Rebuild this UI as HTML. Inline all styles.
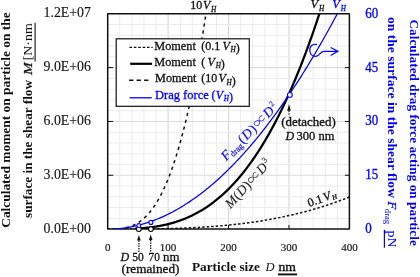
<!DOCTYPE html>
<html><head><meta charset="utf-8"><style>
html,body{margin:0;padding:0;background:#fff;}
svg{display:block;}
text{font-family:"Liberation Serif","DejaVu Serif",serif;}
.i{font-style:italic;}
.b{font-weight:bold;}
</style></head><body>
<svg width="420" height="277" viewBox="0 0 420 277">
<defs><clipPath id="pc"><rect x="107.7" y="13.8" width="241.7" height="215.29999999999998"/></clipPath></defs>
<g><line x1="119.78" y1="13.8" x2="119.78" y2="229.1" stroke="#ececec" stroke-width="1.0"/>
<line x1="131.87" y1="13.8" x2="131.87" y2="229.1" stroke="#ececec" stroke-width="1.0"/>
<line x1="143.95" y1="13.8" x2="143.95" y2="229.1" stroke="#ececec" stroke-width="1.0"/>
<line x1="156.04" y1="13.8" x2="156.04" y2="229.1" stroke="#ececec" stroke-width="1.0"/>
<line x1="168.12" y1="13.8" x2="168.12" y2="229.1" stroke="#d6d6d6" stroke-width="1.1"/>
<line x1="180.21" y1="13.8" x2="180.21" y2="229.1" stroke="#ececec" stroke-width="1.0"/>
<line x1="192.30" y1="13.8" x2="192.30" y2="229.1" stroke="#ececec" stroke-width="1.0"/>
<line x1="204.38" y1="13.8" x2="204.38" y2="229.1" stroke="#ececec" stroke-width="1.0"/>
<line x1="216.46" y1="13.8" x2="216.46" y2="229.1" stroke="#ececec" stroke-width="1.0"/>
<line x1="228.55" y1="13.8" x2="228.55" y2="229.1" stroke="#d6d6d6" stroke-width="1.1"/>
<line x1="240.63" y1="13.8" x2="240.63" y2="229.1" stroke="#ececec" stroke-width="1.0"/>
<line x1="252.72" y1="13.8" x2="252.72" y2="229.1" stroke="#ececec" stroke-width="1.0"/>
<line x1="264.81" y1="13.8" x2="264.81" y2="229.1" stroke="#ececec" stroke-width="1.0"/>
<line x1="276.89" y1="13.8" x2="276.89" y2="229.1" stroke="#ececec" stroke-width="1.0"/>
<line x1="288.98" y1="13.8" x2="288.98" y2="229.1" stroke="#d6d6d6" stroke-width="1.1"/>
<line x1="301.06" y1="13.8" x2="301.06" y2="229.1" stroke="#ececec" stroke-width="1.0"/>
<line x1="313.14" y1="13.8" x2="313.14" y2="229.1" stroke="#ececec" stroke-width="1.0"/>
<line x1="325.23" y1="13.8" x2="325.23" y2="229.1" stroke="#ececec" stroke-width="1.0"/>
<line x1="337.31" y1="13.8" x2="337.31" y2="229.1" stroke="#ececec" stroke-width="1.0"/>
<line x1="107.7" y1="218.34" x2="349.4" y2="218.34" stroke="#ececec" stroke-width="1.0"/>
<line x1="107.7" y1="207.57" x2="349.4" y2="207.57" stroke="#ececec" stroke-width="1.0"/>
<line x1="107.7" y1="196.81" x2="349.4" y2="196.81" stroke="#ececec" stroke-width="1.0"/>
<line x1="107.7" y1="186.04" x2="349.4" y2="186.04" stroke="#ececec" stroke-width="1.0"/>
<line x1="107.7" y1="175.27" x2="349.4" y2="175.27" stroke="#dcdcdc" stroke-width="1.1"/>
<line x1="107.7" y1="164.51" x2="349.4" y2="164.51" stroke="#ececec" stroke-width="1.0"/>
<line x1="107.7" y1="153.75" x2="349.4" y2="153.75" stroke="#ececec" stroke-width="1.0"/>
<line x1="107.7" y1="142.98" x2="349.4" y2="142.98" stroke="#ececec" stroke-width="1.0"/>
<line x1="107.7" y1="132.22" x2="349.4" y2="132.22" stroke="#ececec" stroke-width="1.0"/>
<line x1="107.7" y1="121.45" x2="349.4" y2="121.45" stroke="#dcdcdc" stroke-width="1.1"/>
<line x1="107.7" y1="110.69" x2="349.4" y2="110.69" stroke="#ececec" stroke-width="1.0"/>
<line x1="107.7" y1="99.92" x2="349.4" y2="99.92" stroke="#ececec" stroke-width="1.0"/>
<line x1="107.7" y1="89.16" x2="349.4" y2="89.16" stroke="#ececec" stroke-width="1.0"/>
<line x1="107.7" y1="78.39" x2="349.4" y2="78.39" stroke="#ececec" stroke-width="1.0"/>
<line x1="107.7" y1="67.63" x2="349.4" y2="67.63" stroke="#dcdcdc" stroke-width="1.1"/>
<line x1="107.7" y1="56.86" x2="349.4" y2="56.86" stroke="#ececec" stroke-width="1.0"/>
<line x1="107.7" y1="46.09" x2="349.4" y2="46.09" stroke="#ececec" stroke-width="1.0"/>
<line x1="107.7" y1="35.33" x2="349.4" y2="35.33" stroke="#ececec" stroke-width="1.0"/>
<line x1="107.7" y1="24.56" x2="349.4" y2="24.56" stroke="#ececec" stroke-width="1.0"/></g>
<g stroke="#111" stroke-width="1.0"><line x1="107.7" y1="175.28" x2="113.2" y2="175.28"/>
<line x1="344.9" y1="175.28" x2="349.4" y2="175.28"/>
<line x1="107.7" y1="121.45" x2="113.2" y2="121.45"/>
<line x1="344.9" y1="121.45" x2="349.4" y2="121.45"/>
<line x1="107.7" y1="67.62" x2="113.2" y2="67.62"/>
<line x1="344.9" y1="67.62" x2="349.4" y2="67.62"/>
<line x1="168.12" y1="229.1" x2="168.12" y2="225.1"/>
<line x1="228.55" y1="229.1" x2="228.55" y2="225.1"/>
<line x1="288.97" y1="229.1" x2="288.97" y2="225.1"/></g>
<rect x="107.7" y="13.8" width="241.70" height="215.30" fill="none" stroke="#111" stroke-width="1.5" stroke-linejoin="round"/>
<g clip-path="url(#pc)" fill="none">
<path d="M107.70,229.10 L108.91,229.10 L110.12,229.10 L111.33,229.10 L112.53,229.10 L113.74,229.10 L114.95,229.10 L116.16,229.10 L117.37,229.10 L118.58,229.10 L119.78,229.10 L120.99,229.09 L122.20,229.09 L123.41,229.09 L124.62,229.09 L125.83,229.09 L127.04,229.08 L128.24,229.08 L129.45,229.08 L130.66,229.07 L131.87,229.07 L133.08,229.06 L134.29,229.06 L135.50,229.05 L136.70,229.04 L137.91,229.04 L139.12,229.03 L140.33,229.02 L141.54,229.01 L142.75,229.00 L143.96,228.99 L145.16,228.98 L146.37,228.97 L147.58,228.96 L148.79,228.94 L150.00,228.93 L151.21,228.91 L152.41,228.90 L153.62,228.88 L154.83,228.86 L156.04,228.84 L157.25,228.82 L158.46,228.80 L159.67,228.78 L160.87,228.76 L162.08,228.73 L163.29,228.71 L164.50,228.68 L165.71,228.66 L166.92,228.63 L168.12,228.60 L169.33,228.57 L170.54,228.54 L171.75,228.50 L172.96,228.47 L174.17,228.43 L175.38,228.40 L176.58,228.36 L177.79,228.32 L179.00,228.28 L180.21,228.23 L181.42,228.19 L182.63,228.15 L183.84,228.10 L185.04,228.05 L186.25,228.00 L187.46,227.95 L188.67,227.89 L189.88,227.84 L191.09,227.78 L192.30,227.73 L193.50,227.67 L194.71,227.60 L195.92,227.54 L197.13,227.48 L198.34,227.41 L199.55,227.34 L200.75,227.27 L201.96,227.20 L203.17,227.12 L204.38,227.05 L205.59,226.97 L206.80,226.89 L208.01,226.81 L209.21,226.73 L210.42,226.64 L211.63,226.55 L212.84,226.46 L214.05,226.37 L215.26,226.28 L216.47,226.18 L217.67,226.08 L218.88,225.98 L220.09,225.88 L221.30,225.77 L222.51,225.66 L223.72,225.55 L224.92,225.44 L226.13,225.33 L227.34,225.21 L228.55,225.09 L229.76,224.97 L230.97,224.85 L232.18,224.72 L233.38,224.59 L234.59,224.46 L235.80,224.33 L237.01,224.19 L238.22,224.05 L239.43,223.91 L240.63,223.77 L241.84,223.62 L243.05,223.47 L244.26,223.32 L245.47,223.16 L246.68,223.01 L247.89,222.85 L249.09,222.68 L250.30,222.52 L251.51,222.35 L252.72,222.18 L253.93,222.00 L255.14,221.82 L256.35,221.64 L257.55,221.46 L258.76,221.27 L259.97,221.08 L261.18,220.89 L262.39,220.70 L263.60,220.50 L264.81,220.30 L266.01,220.09 L267.22,219.88 L268.43,219.67 L269.64,219.46 L270.85,219.24 L272.06,219.02 L273.26,218.80 L274.47,218.57 L275.68,218.34 L276.89,218.10 L278.10,217.87 L279.31,217.63 L280.52,217.38 L281.72,217.14 L282.93,216.88 L284.14,216.63 L285.35,216.37 L286.56,216.11 L287.77,215.85 L288.98,215.58 L290.18,215.30 L291.39,215.03 L292.60,214.75 L293.81,214.47 L295.02,214.18 L296.23,213.89 L297.43,213.59 L298.64,213.30 L299.85,212.99 L301.06,212.69 L302.27,212.38 L303.48,212.06 L304.69,211.75 L305.89,211.43 L307.10,211.10 L308.31,210.77 L309.52,210.44 L310.73,210.10 L311.94,209.76 L313.14,209.41 L314.35,209.06 L315.56,208.71 L316.77,208.35 L317.98,207.99 L319.19,207.63 L320.40,207.26 L321.60,206.88 L322.81,206.50 L324.02,206.12 L325.23,205.73 L326.44,205.34 L327.65,204.94 L328.86,204.54 L330.06,204.14 L331.27,203.73 L332.48,203.32 L333.69,202.90 L334.90,202.48 L336.11,202.05 L337.31,201.62 L338.52,201.18 L339.73,200.74 L340.94,200.29 L342.15,199.84 L343.36,199.39 L344.57,198.93 L345.77,198.47 L346.98,198.00 L348.19,197.52 L349.40,197.04" stroke="#111" stroke-width="1.5" stroke-dasharray="2.5 2"/>
<path d="M125.83,227.75 L126.23,227.66 L126.63,227.56 L127.03,227.46 L127.43,227.36 L127.83,227.25 L128.23,227.14 L128.63,227.02 L129.03,226.90 L129.43,226.77 L129.83,226.64 L130.23,226.50 L130.63,226.36 L131.04,226.22 L131.44,226.06 L131.84,225.91 L132.24,225.75 L132.64,225.58 L133.04,225.41 L133.44,225.23 L133.84,225.05 L134.24,224.86 L134.64,224.66 L135.04,224.46 L135.44,224.25 L135.84,224.04 L136.24,223.82 L136.64,223.60 L137.04,223.36 L137.44,223.13 L137.85,222.88 L138.25,222.63 L138.65,222.37 L139.05,222.11 L139.45,221.84 L139.85,221.56 L140.25,221.27 L140.65,220.98 L141.05,220.68 L141.45,220.37 L141.85,220.06 L142.25,219.74 L142.65,219.41 L143.05,219.07 L143.45,218.72 L143.85,218.37 L144.26,218.01 L144.66,217.64 L145.06,217.26 L145.46,216.88 L145.86,216.49 L146.26,216.09 L146.66,215.68 L147.06,215.26 L147.46,214.83 L147.86,214.39 L148.26,213.95 L148.66,213.50 L149.06,213.03 L149.46,212.56 L149.86,212.08 L150.26,211.59 L150.66,211.09 L151.07,210.59 L151.47,210.07 L151.87,209.54 L152.27,209.00 L152.67,208.46 L153.07,207.90 L153.47,207.33 L153.87,206.76 L154.27,206.17 L154.67,205.57 L155.07,204.97 L155.47,204.35 L155.87,203.72 L156.27,203.08 L156.67,202.43 L157.07,201.77 L157.48,201.10 L157.88,200.42 L158.28,199.73 L158.68,199.03 L159.08,198.31 L159.48,197.59 L159.88,196.85 L160.28,196.10 L160.68,195.34 L161.08,194.57 L161.48,193.78 L161.88,192.99 L162.28,192.18 L162.68,191.36 L163.08,190.53 L163.48,189.69 L163.88,188.83 L164.29,187.97 L164.69,187.09 L165.09,186.20 L165.49,185.29 L165.89,184.37 L166.29,183.44 L166.69,182.50 L167.09,181.54 L167.49,180.58 L167.89,179.59 L168.29,178.60 L168.69,177.59 L169.09,176.57 L169.49,175.53 L169.89,174.48 L170.29,173.42 L170.69,172.35 L171.10,171.26 L171.50,170.15 L171.90,169.04 L172.30,167.90 L172.70,166.76 L173.10,165.60 L173.50,164.43 L173.90,163.24 L174.30,162.03 L174.70,160.82 L175.10,159.58 L175.50,158.34 L175.90,157.08 L176.30,155.80 L176.70,154.51 L177.10,153.20 L177.51,151.88 L177.91,150.54 L178.31,149.19 L178.71,147.82 L179.11,146.44 L179.51,145.04 L179.91,143.62 L180.31,142.19 L180.71,140.75 L181.11,139.28 L181.51,137.81 L181.91,136.31 L182.31,134.80 L182.71,133.27 L183.11,131.73 L183.51,130.17 L183.91,128.59 L184.32,127.00 L184.72,125.39 L185.12,123.76 L185.52,122.12 L185.92,120.46 L186.32,118.78 L186.72,117.09 L187.12,115.37 L187.52,113.65 L187.92,111.90 L188.32,110.13 L188.72,108.35 L189.12,106.55 L189.52,104.73 L189.92,102.90 L190.32,101.04 L190.73,99.17 L191.13,97.28 L191.53,95.37 L191.93,93.45 L192.33,91.50 L192.73,89.54 L193.13,87.56 L193.53,85.56 L193.93,83.54 L194.33,81.50 L194.73,79.44 L195.13,77.37 L195.53,75.27 L195.93,73.16 L196.33,71.02 L196.73,68.87 L197.13,66.70 L197.54,64.51 L197.94,62.29 L198.34,60.06 L198.74,57.81 L199.14,55.54 L199.54,53.25 L199.94,50.94 L200.34,48.61 L200.74,46.25 L201.14,43.88 L201.54,41.49 L201.94,39.08 L202.34,36.64 L202.74,34.19 L203.14,31.71 L203.54,29.22 L203.94,26.70 L204.35,24.16 L204.75,21.60 L205.15,19.02 L205.55,16.42 L205.95,13.80" stroke="#111" stroke-width="1.5" stroke-dasharray="3.2 3.8"/>
<path d="M134.89,228.64 L135.81,228.60 L136.74,228.54 L137.66,228.49 L138.58,228.43 L139.50,228.37 L140.43,228.30 L141.35,228.24 L142.27,228.16 L143.19,228.08 L144.12,228.00 L145.04,227.92 L145.96,227.83 L146.88,227.73 L147.80,227.64 L148.73,227.53 L149.65,227.42 L150.57,227.31 L151.49,227.19 L152.42,227.07 L153.34,226.94 L154.26,226.81 L155.18,226.67 L156.11,226.53 L157.03,226.37 L157.95,226.22 L158.87,226.06 L159.80,225.89 L160.72,225.72 L161.64,225.54 L162.56,225.35 L163.49,225.16 L164.41,224.96 L165.33,224.75 L166.25,224.54 L167.17,224.32 L168.10,224.10 L169.02,223.87 L169.94,223.63 L170.86,223.38 L171.79,223.12 L172.71,222.86 L173.63,222.59 L174.55,222.32 L175.48,222.03 L176.40,221.74 L177.32,221.44 L178.24,221.13 L179.17,220.81 L180.09,220.49 L181.01,220.16 L181.93,219.81 L182.86,219.46 L183.78,219.10 L184.70,218.74 L185.62,218.36 L186.54,217.97 L187.47,217.58 L188.39,217.17 L189.31,216.76 L190.23,216.34 L191.16,215.90 L192.08,215.46 L193.00,215.01 L193.92,214.55 L194.85,214.07 L195.77,213.59 L196.69,213.10 L197.61,212.60 L198.54,212.08 L199.46,211.56 L200.38,211.03 L201.30,210.48 L202.23,209.93 L203.15,209.36 L204.07,208.78 L204.99,208.19 L205.92,207.59 L206.84,206.98 L207.76,206.36 L208.68,205.72 L209.60,205.08 L210.53,204.42 L211.45,203.75 L212.37,203.06 L213.29,202.37 L214.22,201.66 L215.14,200.94 L216.06,200.21 L216.98,199.47 L217.91,198.71 L218.83,197.94 L219.75,197.16 L220.67,196.37 L221.60,195.56 L222.52,194.74 L223.44,193.90 L224.36,193.05 L225.29,192.19 L226.21,191.32 L227.13,190.43 L228.05,189.52 L228.97,188.61 L229.90,187.68 L230.82,186.73 L231.74,185.77 L232.66,184.80 L233.59,183.81 L234.51,182.81 L235.43,181.79 L236.35,180.76 L237.28,179.71 L238.20,178.65 L239.12,177.57 L240.04,176.48 L240.97,175.37 L241.89,174.24 L242.81,173.11 L243.73,171.95 L244.66,170.78 L245.58,169.59 L246.50,168.39 L247.42,167.17 L248.34,165.94 L249.27,164.69 L250.19,163.42 L251.11,162.14 L252.03,160.84 L252.96,159.52 L253.88,158.19 L254.80,156.84 L255.72,155.47 L256.65,154.08 L257.57,152.68 L258.49,151.26 L259.41,149.82 L260.34,148.37 L261.26,146.90 L262.18,145.41 L263.10,143.90 L264.03,142.37 L264.95,140.83 L265.87,139.26 L266.79,137.68 L267.72,136.08 L268.64,134.47 L269.56,132.83 L270.48,131.17 L271.40,129.50 L272.33,127.81 L273.25,126.10 L274.17,124.36 L275.09,122.61 L276.02,120.84 L276.94,119.05 L277.86,117.24 L278.78,115.42 L279.71,113.57 L280.63,111.70 L281.55,109.81 L282.47,107.90 L283.40,105.97 L284.32,104.02 L285.24,102.05 L286.16,100.06 L287.09,98.05 L288.01,96.02 L288.93,93.97 L289.85,91.89 L290.77,89.80 L291.70,87.68 L292.62,85.54 L293.54,83.38 L294.46,81.20 L295.39,79.00 L296.31,76.78 L297.23,74.53 L298.15,72.27 L299.08,69.98 L300.00,67.66 L300.92,65.33 L301.84,62.97 L302.77,60.59 L303.69,58.19 L304.61,55.77 L305.53,53.32 L306.46,50.85 L307.38,48.36 L308.30,45.84 L309.22,43.30 L310.14,40.74 L311.07,38.15 L311.99,35.54 L312.91,32.91 L313.83,30.25 L314.76,27.57 L315.68,24.86 L316.60,22.13 L317.52,19.38 L318.45,16.60 L319.37,13.80" stroke="#000" stroke-width="2.25"/>
<path d="M113.14,228.98 L114.26,228.92 L115.38,228.86 L116.50,228.78 L117.62,228.70 L118.74,228.60 L119.86,228.50 L120.98,228.38 L122.11,228.25 L123.23,228.12 L124.35,227.97 L125.47,227.81 L126.59,227.64 L127.71,227.46 L128.83,227.28 L129.95,227.08 L131.07,226.87 L132.19,226.65 L133.31,226.42 L134.44,226.18 L135.56,225.93 L136.68,225.67 L137.80,225.40 L138.92,225.12 L140.04,224.83 L141.16,224.53 L142.28,224.22 L143.40,223.89 L144.52,223.56 L145.64,223.22 L146.76,222.87 L147.89,222.51 L149.01,222.13 L150.13,221.75 L151.25,221.36 L152.37,220.95 L153.49,220.54 L154.61,220.11 L155.73,219.68 L156.85,219.23 L157.97,218.78 L159.09,218.31 L160.22,217.84 L161.34,217.35 L162.46,216.86 L163.58,216.35 L164.70,215.83 L165.82,215.31 L166.94,214.77 L168.06,214.22 L169.18,213.66 L170.30,213.10 L171.42,212.52 L172.55,211.93 L173.67,211.33 L174.79,210.72 L175.91,210.10 L177.03,209.47 L178.15,208.83 L179.27,208.18 L180.39,207.52 L181.51,206.85 L182.63,206.17 L183.75,205.48 L184.87,204.78 L186.00,204.07 L187.12,203.34 L188.24,202.61 L189.36,201.87 L190.48,201.12 L191.60,200.35 L192.72,199.58 L193.84,198.80 L194.96,198.00 L196.08,197.20 L197.20,196.39 L198.33,195.56 L199.45,194.73 L200.57,193.88 L201.69,193.03 L202.81,192.16 L203.93,191.29 L205.05,190.40 L206.17,189.50 L207.29,188.60 L208.41,187.68 L209.53,186.75 L210.66,185.81 L211.78,184.87 L212.90,183.91 L214.02,182.94 L215.14,181.96 L216.26,180.97 L217.38,179.98 L218.50,178.97 L219.62,177.95 L220.74,176.92 L221.86,175.88 L222.98,174.83 L224.11,173.77 L225.23,172.70 L226.35,171.61 L227.47,170.52 L228.59,169.42 L229.71,168.31 L230.83,167.19 L231.95,166.06 L233.07,164.91 L234.19,163.76 L235.31,162.60 L236.44,161.42 L237.56,160.24 L238.68,159.05 L239.80,157.84 L240.92,156.63 L242.04,155.40 L243.16,154.17 L244.28,152.92 L245.40,151.67 L246.52,150.40 L247.64,149.13 L248.77,147.84 L249.89,146.54 L251.01,145.24 L252.13,143.92 L253.25,142.59 L254.37,141.25 L255.49,139.91 L256.61,138.55 L257.73,137.18 L258.85,135.80 L259.97,134.41 L261.09,133.01 L262.22,131.60 L263.34,130.18 L264.46,128.75 L265.58,127.31 L266.70,125.86 L267.82,124.40 L268.94,122.93 L270.06,121.45 L271.18,119.96 L272.30,118.46 L273.42,116.95 L274.55,115.42 L275.67,113.89 L276.79,112.35 L277.91,110.79 L279.03,109.23 L280.15,107.66 L281.27,106.07 L282.39,104.48 L283.51,102.88 L284.63,101.26 L285.75,99.64 L286.88,98.00 L288.00,96.36 L289.12,94.70 L290.24,93.03 L291.36,91.36 L292.48,89.67 L293.60,87.97 L294.72,86.27 L295.84,84.55 L296.96,82.82 L298.08,81.09 L299.20,79.34 L300.33,77.58 L301.45,75.81 L302.57,74.03 L303.69,72.24 L304.81,70.44 L305.93,68.63 L307.05,66.81 L308.17,64.98 L309.29,63.14 L310.41,61.29 L311.53,59.43 L312.66,57.56 L313.78,55.68 L314.90,53.79 L316.02,51.89 L317.14,49.97 L318.26,48.05 L319.38,46.12 L320.50,44.18 L321.62,42.22 L322.74,40.26 L323.86,38.29 L324.99,36.30 L326.11,34.31 L327.23,32.30 L328.35,30.29 L329.47,28.26 L330.59,26.23 L331.71,24.18 L332.83,22.13 L333.95,20.06 L335.07,17.98 L336.19,15.90 L337.31,13.80" stroke="#0000ff" stroke-width="1.25"/>
</g>
<circle cx="138.81" cy="229.10" r="2.4" fill="#fff" stroke="#000" stroke-width="1.1"/>
<circle cx="150.90" cy="229.10" r="2.4" fill="#fff" stroke="#000" stroke-width="1.1"/>
<circle cx="138.81" cy="225.57" r="1.9" fill="#fff" stroke="#0000ff" stroke-width="1.1"/>
<circle cx="150.90" cy="222.39" r="2.0" fill="#fff" stroke="#0000ff" stroke-width="1.1"/>
<circle cx="289.88" cy="94.91" r="2.4" fill="#fff" stroke="#0000ff" stroke-width="1.1"/>
<path d="M138.9,235.1 L140.70000000000002,240.6 L137.1,240.6 Z" fill="#111"/><line x1="138.9" y1="240.6" x2="138.9" y2="252" stroke="#111" stroke-width="1.2" stroke-dasharray="1.3 1.2"/><path d="M150.7,234.6 L152.5,240.1 L148.89999999999998,240.1 Z" fill="#111"/><line x1="150.7" y1="240.1" x2="150.7" y2="252" stroke="#111" stroke-width="1.2" stroke-dasharray="1.3 1.2"/><path d="M289.0,104.2 L290.8,110.7 L287.2,110.7 Z" fill="#111"/><line x1="289.0" y1="110.7" x2="289.0" y2="115.6" stroke="#111" stroke-width="1.2" stroke-dasharray="1.3 1.2"/>
<!-- rotation arrow -->
<path d="M316.9,44.6 C312,43.3 309.4,47 309.8,50.6 C310.2,54.6 312.8,56.7 315.8,56.4 C318.9,56.1 320.2,53.5 321.5,52.2 C322.4,51.5 323.5,51.3 325,51.3 L337.9,51.3 M330.7,47.5 L337.9,51.3 L330.7,55.4" fill="none" stroke="#0000ff" stroke-width="1.2"/>
<!-- legend -->
<rect x="116.2" y="38.8" width="133.1" height="67.5" fill="#fff" stroke="#111" stroke-width="1.2"/>
<g fill="none">
<line x1="129.4" y1="47.3" x2="152.7" y2="47.3" stroke="#111" stroke-width="1.3" stroke-dasharray="2.6 1.8"/>
<line x1="130.2" y1="63.8" x2="152.1" y2="63.8" stroke="#000" stroke-width="2.2"/>
<line x1="129.1" y1="80.3" x2="149.5" y2="80.3" stroke="#111" stroke-width="1.5" stroke-dasharray="4.3 3.2"/>
<line x1="129.6" y1="97.8" x2="151.8" y2="97.8" stroke="#0000ff" stroke-width="1.3"/>
</g>
<g font-size="12" fill="#111" stroke="#111" stroke-width="0.3">
<text x="154.3" y="49.8" textLength="41.5" lengthAdjust="spacingAndGlyphs">Moment</text><text x="201.3" y="49.8">(0.1</text><text x="222.5" y="49.8"><tspan class="i">V</tspan><tspan class="i" font-size="7.2" dy="2.4" dx="0.7">H</tspan><tspan dy="-2.4"></tspan><tspan>)</tspan></text>
<text x="154.3" y="65.6" textLength="41.5" lengthAdjust="spacingAndGlyphs">Moment</text><text x="201.3" y="65.6">(</text><text x="207.6" y="65.6"><tspan class="i">V</tspan><tspan class="i" font-size="7.2" dy="2.4" dx="0.7">H</tspan><tspan dy="-2.4"></tspan><tspan>)</tspan></text>
<text x="155" y="82.2" textLength="41.5" lengthAdjust="spacingAndGlyphs">Moment</text><text x="201.3" y="82.2">(10</text><text x="218.5" y="82.2"><tspan class="i">V</tspan><tspan class="i" font-size="7.2" dy="2.4" dx="0.7">H</tspan><tspan dy="-2.4"></tspan><tspan>)</tspan></text>
<g fill="#0000ff" stroke="#0000ff"><text x="155" y="98.6" textLength="53.8" lengthAdjust="spacingAndGlyphs">Drag force</text><text x="211.5" y="98.6">(</text><text x="215.8" y="98.6"><tspan class="i">V</tspan><tspan class="i" font-size="7.2" dy="2.4" dx="0.7">H</tspan><tspan dy="-2.4"></tspan><tspan>)</tspan></text></g>
</g>
<g font-size="13.8" fill="#111" stroke="#111" stroke-width="0.12"><text x="43.5" y="232.70" textLength="47.5" lengthAdjust="spacingAndGlyphs">0.0E+00</text><text x="43.5" y="178.88" textLength="47.5" lengthAdjust="spacingAndGlyphs">3.0E+06</text><text x="43.5" y="125.05" textLength="47.5" lengthAdjust="spacingAndGlyphs">6.0E+06</text><text x="43.5" y="71.22" textLength="47.5" lengthAdjust="spacingAndGlyphs">9.0E+06</text><text x="43.5" y="17.40" textLength="47.5" lengthAdjust="spacingAndGlyphs">1.2E+07</text></g>
<g font-size="14.8" fill="#0000ff" stroke="#0000ff" stroke-width="0.35"><text x="365.2" y="233.00" textLength="6.5" lengthAdjust="spacingAndGlyphs">0</text><text x="365.2" y="179.18" textLength="12.9" lengthAdjust="spacingAndGlyphs">15</text><text x="365.2" y="125.35" textLength="12.9" lengthAdjust="spacingAndGlyphs">30</text><text x="365.2" y="71.53" textLength="12.9" lengthAdjust="spacingAndGlyphs">45</text><text x="365.2" y="17.70" textLength="12.9" lengthAdjust="spacingAndGlyphs">60</text></g>
<g font-size="11" fill="#111" stroke="#111" stroke-width="0.15"><text x="107.70" y="251.2" text-anchor="middle">0</text><text x="168.12" y="251.2" text-anchor="middle">100</text><text x="228.55" y="251.2" text-anchor="middle">200</text><text x="288.97" y="251.2" text-anchor="middle">300</text><text x="349.40" y="251.2" text-anchor="middle">400</text></g>
<!-- x label -->
<g font-size="12.5" fill="#111">
<text x="192" y="270.6" textLength="68" lengthAdjust="spacingAndGlyphs" class="b">Particle size</text>
<text x="265.5" y="270.6" class="i">D</text>
<text x="278.5" y="270.6" textLength="17.5" lengthAdjust="spacingAndGlyphs" stroke="#111" stroke-width="0.35">nm</text>
<line x1="277.9" y1="274.4" x2="297.1" y2="274.4" stroke="#111" stroke-width="1.9"/>
</g>
<!-- left y label -->
<g font-size="12.5" fill="#111">
<text transform="translate(10.1,227.8) rotate(-90)" x="0" y="0" class="b" textLength="215.5" lengthAdjust="spacingAndGlyphs">Calculated moment on particle on the</text>
<text transform="translate(31.5,218) rotate(-90)" x="0" y="0" class="b" textLength="138" lengthAdjust="spacingAndGlyphs">surface in the shear flow</text>
<text transform="translate(31.6,74.9) rotate(-90)" x="0" y="0" class="i" font-size="13" stroke="#111" stroke-width="0.3" textLength="12.6" lengthAdjust="spacingAndGlyphs">M</text>
<text transform="translate(32.3,60.3) rotate(-90)" x="0" y="0" textLength="37" lengthAdjust="spacingAndGlyphs">[N·nm</text>
<line x1="35.1" y1="61.5" x2="35.1" y2="22.7" stroke="#111" stroke-width="1.1"/>
</g>
<!-- right y label -->
<g font-size="12.5" fill="#0000ff">
<text transform="translate(410.3,19.4) rotate(90)" x="0" y="0" class="b" textLength="226.5" lengthAdjust="spacingAndGlyphs">Calculated drag force acting on particle</text>
<text transform="translate(387.9,17) rotate(90)" x="0" y="0" class="b" textLength="181" lengthAdjust="spacingAndGlyphs">on the surface in the shear flow</text>
<text transform="translate(387.9,201.2) rotate(90)" x="0" y="0"><tspan class="i" font-size="13.5" stroke="#0000ff" stroke-width="0.25">F</tspan><tspan font-size="8.6" dy="2.4" dx="-0.6">drag</tspan></text>
<text transform="translate(387.9,230.5) rotate(90)" x="0" y="0" textLength="17" lengthAdjust="spacingAndGlyphs">pN</text>
<line x1="384.4" y1="229.8" x2="384.4" y2="247.8" stroke="#0000ff" stroke-width="1.2"/>
</g>
<!-- annotations -->
<g font-size="12" fill="#111" stroke="#111" stroke-width="0.3">
<text x="190.2" y="9.3">10</text><text x="203" y="9.3"><tspan class="i">V</tspan><tspan class="i" font-size="7.2" dy="2.4" dx="0.7">H</tspan><tspan dy="-2.4"></tspan></text>
<text x="310.6" y="8.4" font-size="12.5"><tspan class="i">V</tspan><tspan class="i" font-size="7.2" dy="2.4" dx="0.7">H</tspan><tspan dy="-2.4"></tspan></text>
<text x="332.3" y="8.4" font-size="12.5" fill="#0000ff" stroke="#0000ff"><tspan class="i">V</tspan><tspan class="i" font-size="7.2" dy="2.4" dx="0.7">H</tspan><tspan dy="-2.4"></tspan></text>
<text x="281.3" y="126.4" textLength="54.5" lengthAdjust="spacingAndGlyphs">(detached)</text>
<text x="285.6" y="140" class="i">D</text><text x="296.5" y="140" textLength="18.8" lengthAdjust="spacingAndGlyphs">300</text><text x="318.5" y="140" textLength="16" lengthAdjust="spacingAndGlyphs">nm</text>
<text x="120.6" y="261" class="i">D</text><text x="132.2" y="261" textLength="11.5" lengthAdjust="spacingAndGlyphs">50</text><text x="148.6" y="261" textLength="11.3" lengthAdjust="spacingAndGlyphs">70</text><text x="163.1" y="261" textLength="16.4" lengthAdjust="spacingAndGlyphs">nm</text>
<text x="121.5" y="273.2" textLength="58" lengthAdjust="spacingAndGlyphs">(remained)</text>
<text id="t01" transform="translate(309.3,207) rotate(-20)" x="0" y="0">0.1<tspan class="i" dx="1.5">V</tspan><tspan class="i" font-size="6.8" dy="1.6" dx="0.7">H</tspan><tspan dy="-1.6"></tspan></text>
<text id="tM" transform="translate(230.6,209) rotate(-47.5)" x="0" y="0" font-size="13.5" stroke-width="0.1" fill="#222" letter-spacing="0.4"><tspan class="i">M</tspan>(<tspan class="i">D</tspan>)<tspan font-size="13" stroke-width="0.1" font-family="Liberation Serif, Noto Serif CJK SC, serif" dx="0.3">∝</tspan><tspan class="i" dx="0.8">D</tspan><tspan font-size="8" dy="-5.5" dx="0.8">3</tspan></text>
<text id="tF" transform="translate(226.3,161.3) rotate(-45.5)" x="0" y="0" font-size="13.5" fill="#0000ff" stroke="#0000ff" stroke-width="0.15" letter-spacing="0.75"><tspan class="i">F</tspan><tspan font-size="8.5" dy="2.2" dx="-1.3" letter-spacing="0">drag</tspan><tspan dy="-2.2" dx="1.2">(</tspan><tspan class="i">D</tspan>)<tspan font-size="13" stroke-width="0.1" font-family="Liberation Serif, Noto Serif CJK SC, serif" dx="0.3">∝</tspan><tspan class="i" dx="0.8">D</tspan><tspan font-size="8" dy="-5.5" dx="0.5">2</tspan></text>
</g>
</svg>
</body></html>
